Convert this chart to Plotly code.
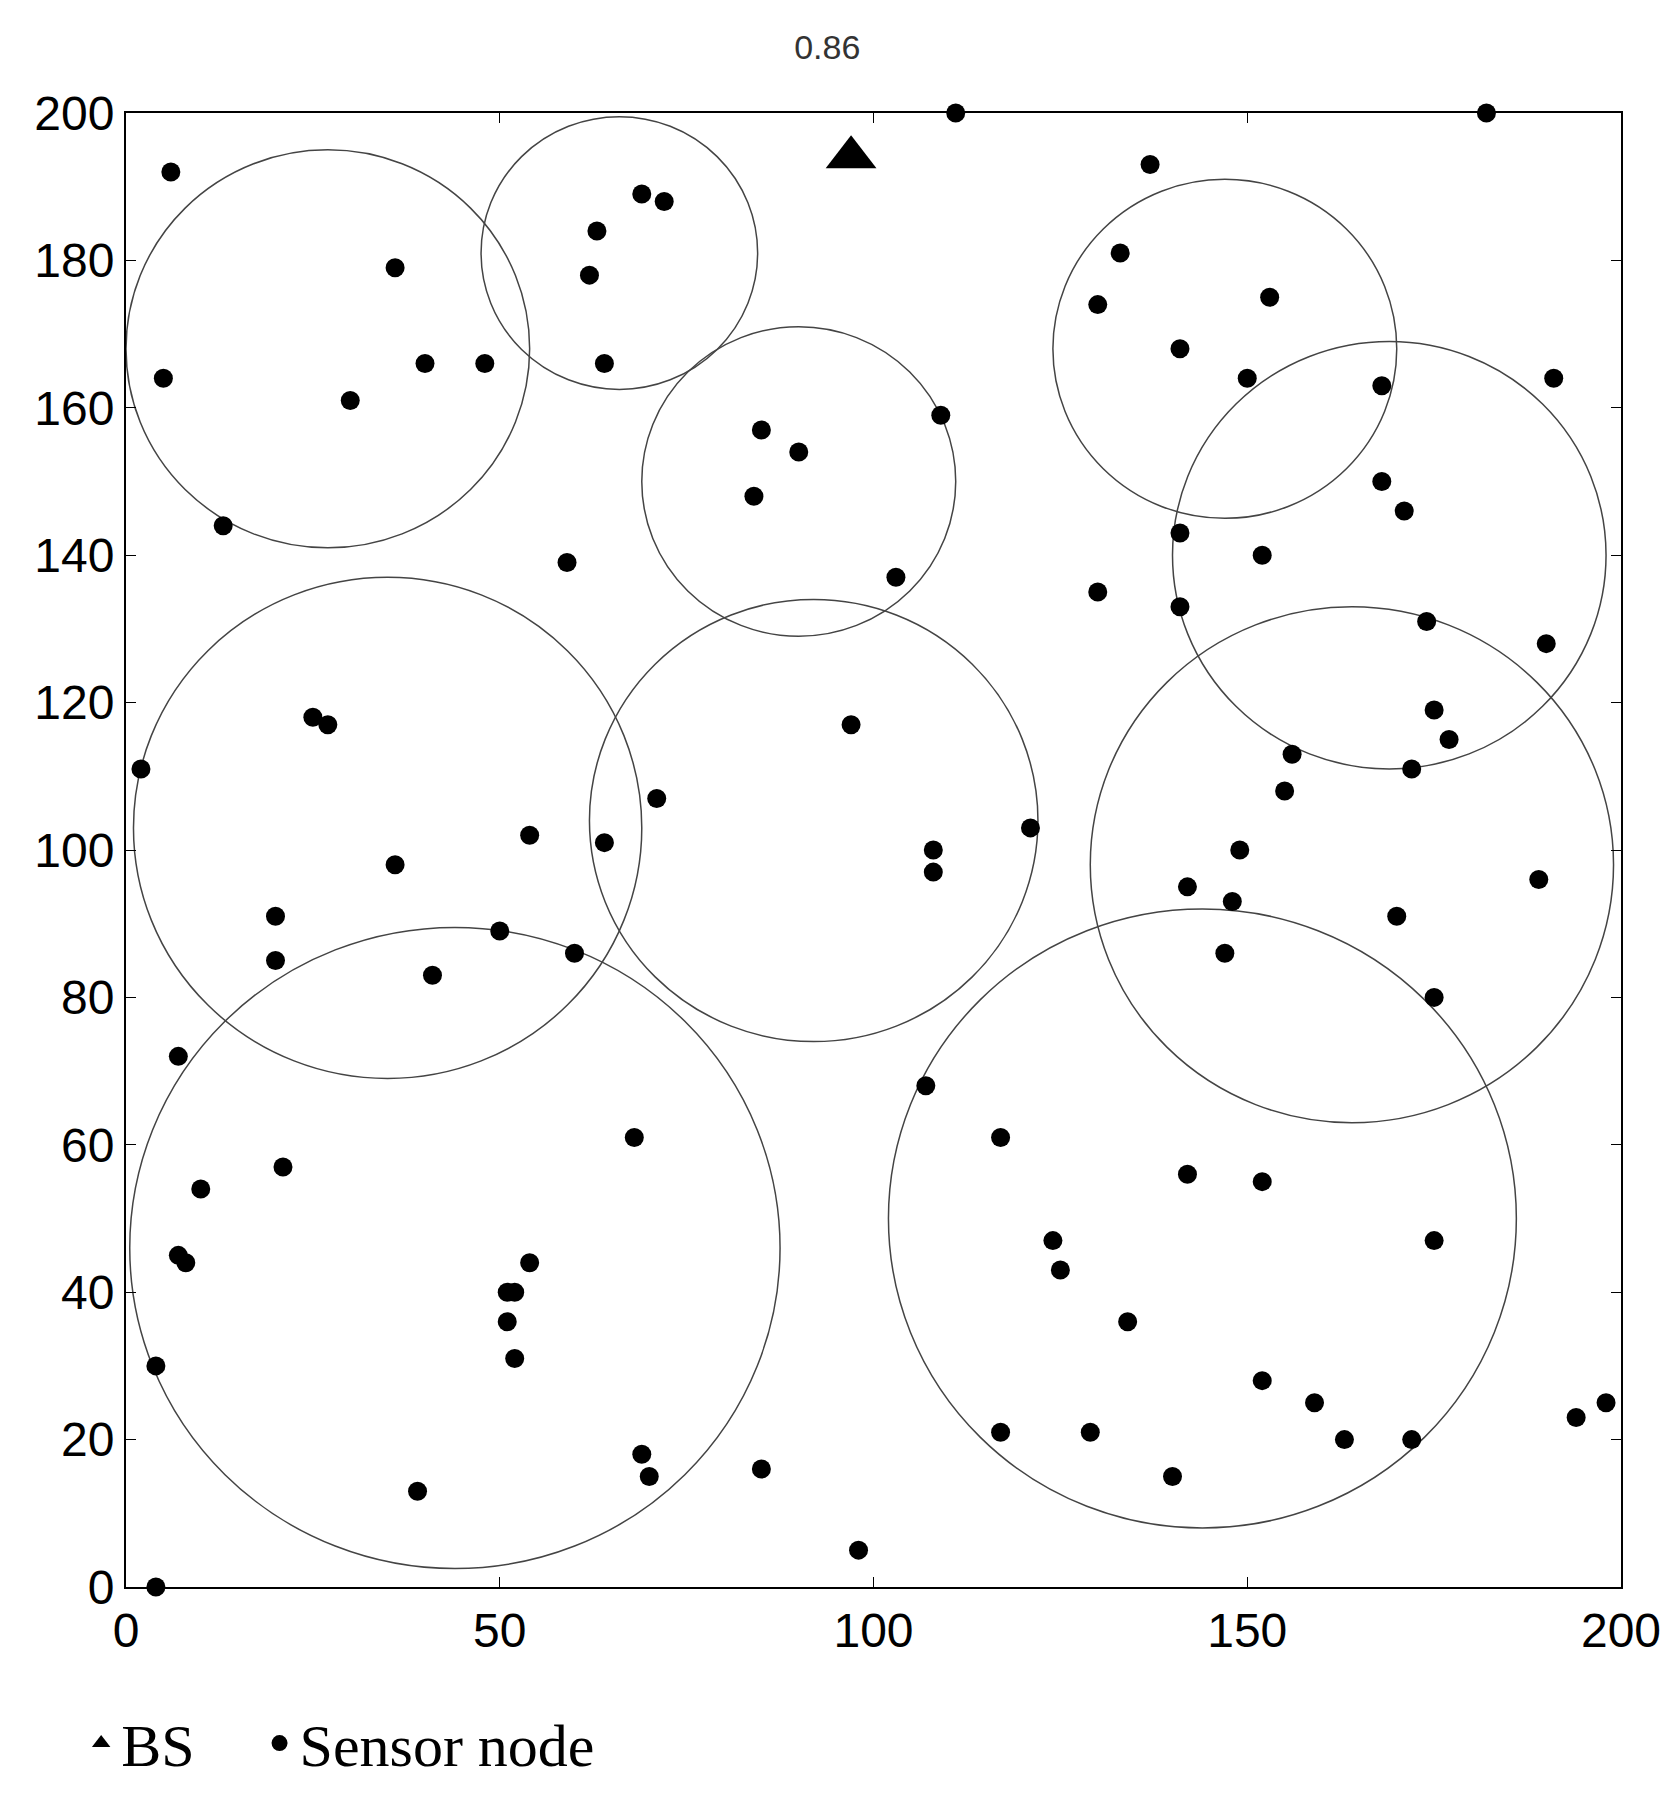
import plotly.graph_objects as go

# sensor nodes
node_x = [6, 5, 36, 40, 48, 30, 13, 63, 62, 69, 72, 64, 111, 182, 137, 133, 130, 141, 153, 150, 168, 191,
          85, 90, 84, 109, 103,
          59, 141, 130, 141, 152, 168, 171, 174, 190, 175, 177, 172, 156, 155,
          25, 27, 2, 71, 97, 64, 54, 36, 121, 108, 108, 149, 142, 148, 147, 170, 189, 175,
          20, 20, 50, 41, 60, 7, 107, 68, 117, 21, 10, 142, 152,
          7, 8, 54, 51, 52, 51, 52, 124, 125, 175, 134, 4,
          152, 159, 198, 194, 117, 129, 163, 172, 69, 70, 85, 39, 140, 98, 4]
node_y = [192, 164, 179, 166, 166, 161, 144, 184, 178, 189, 188, 166, 200, 200, 193, 181, 174, 168, 175, 164, 163, 164,
          157, 154, 148, 159, 137,
          139, 143, 135, 133, 140, 150, 146, 131, 128, 119, 115, 111, 113, 108,
          118, 117, 111, 107, 117, 101, 102, 98, 103, 100, 97, 100, 95, 93, 86, 91, 96, 80,
          91, 85, 89, 83, 86, 72, 68, 61, 61, 57, 54, 56, 55,
          45, 44, 44, 40, 40, 36, 31, 47, 43, 47, 36, 30,
          28, 25, 25, 23, 21, 21, 20, 20, 18, 15, 16, 13, 15, 5, 0]

# cluster circles
circ_x = [27, 66, 90, 35, 92, 44, 147, 169, 164, 144]
circ_y = [168, 181, 150, 103, 104, 46, 168, 140, 98, 50]
circ_r = [27, 18.5, 21, 34, 30, 43.5, 23, 29, 35, 42]

bs_x = [97]
bs_y = [194]

fig = go.Figure()
fig.add_trace(go.Scatter(x=bs_x, y=bs_y, mode="markers", name="BS&nbsp;&nbsp;&nbsp;&nbsp;",
                         marker=dict(symbol="triangle-up", size=44, color="black"),
                         cliponaxis=False))
fig.add_trace(go.Scatter(x=node_x, y=node_y, mode="markers", name="Sensor node",
                         marker=dict(symbol="circle", size=19, color="black"),
                         cliponaxis=False))

for cx, cy, r in zip(circ_x, circ_y, circ_r):
    fig.add_shape(type="circle", xref="x", yref="y",
                  x0=cx - r, x1=cx + r, y0=cy - r, y1=cy + r,
                  line=dict(color="#444", width=1.5), layer="below")

axis = dict(range=[0, 200], tickvals=[0, 50, 100, 150, 200], showgrid=False,
            zeroline=False, showline=True, linecolor="black", linewidth=2,
            mirror="ticks", ticks="inside", ticklen=10, tickcolor="black",
            tickfont=dict(family="Liberation Sans", size=48, color="black"))
fig.update_xaxes(**axis)
fig.update_yaxes(**dict(axis, tickvals=list(range(0, 201, 20))))

fig.update_layout(
    width=1672, height=1793,
    margin=dict(l=118, r=59, t=105, b=196),
    plot_bgcolor="white", paper_bgcolor="white",
    title=dict(text="0.86", x=0.49, xanchor="center", y=0.985,
               font=dict(family="Liberation Sans", size=34, color="#333")),
    legend=dict(orientation="h", x=-0.03, y=-0.075, xanchor="left", yanchor="top",
                font=dict(family="Liberation Serif", size=60, color="black"),
                itemsizing="trace", itemwidth=30),
)

fig.write_html("out.html")
